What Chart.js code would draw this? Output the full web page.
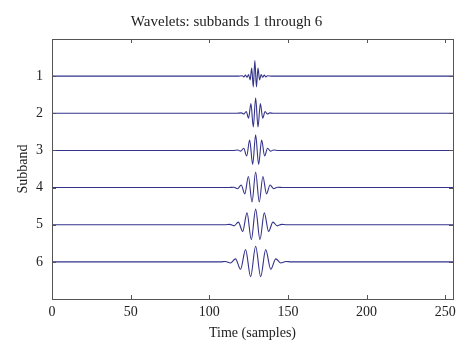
<!DOCTYPE html>
<html>
<head>
<meta charset="utf-8">
<script src="https://cdn.jsdelivr.net/npm/chart.js@4/dist/chart.umd.min.js"></script>
<style>
  html, body { margin: 0; padding: 0; background: #fff; }
  #wrap { width: 474px; height: 358px; position: relative; }
</style>
</head>
<body>
<div id="wrap"><canvas id="c"></canvas></div>
<script>
// Tick labels
const xTicks = [0, 50, 100, 150, 200, 250];
const yTicks = [1, 2, 3, 4, 5, 6];
const subbands = [1, 2, 3, 4, 5, 6];

// Wavelet samples: [time, deflection] (deflection in subband units, + = up)
const sub1 = [[0,0],[118,0],[121,0.01],[122,-0.02],[123,0.03],[124,-0.03],[125,0.04],[126,-0.1],[127,0.22],[128,-0.29],[129,0.42],[130,-0.29],[131,0.22],[132,-0.1],[133,0.04],[134,-0.03],[135,0.03],[136,-0.02],[137,0.01],[140,0],[255,0]];
const sub2 = [[0,0],[117,0],[120.5,0.01],[122,-0.02],[123.5,0.05],[125,-0.13],[126.5,0.26],[128,-0.37],[129.5,0.42],[131,-0.37],[132.5,0.26],[134,-0.13],[135.5,0.05],[137,-0.02],[138.5,0.01],[141,0],[255,0]];
const sub3 = [[0,0],[115,0],[118.1,0.01],[120,-0.02],[121.9,0.06],[123.8,-0.15],[125.7,0.28],[127.6,-0.38],[129.5,0.42],[131.4,-0.38],[133.3,0.28],[135.2,-0.15],[137.1,0.06],[139,-0.02],[140.9,0.01],[144,0],[255,0]];
const sub4 = [[0,0],[112,0],[115.7,0.01],[118,-0.03],[120.3,0.07],[122.6,-0.17],[124.9,0.3],[127.2,-0.39],[129.5,0.42],[131.8,-0.39],[134.1,0.3],[136.4,-0.17],[138.7,0.07],[141,-0.03],[143.3,0.01],[147,0],[255,0]];
const sub5 = [[0,0],[110,0],[113,0.01],[115.75,-0.03],[118.5,0.07],[121.25,-0.18],[124,0.32],[126.75,-0.4],[129.5,0.42],[132.25,-0.4],[135,0.32],[137.75,-0.18],[140.5,0.07],[143.25,-0.03],[146,0.01],[149,0],[255,0]];
const sub6 = [[0,0],[107,0],[110.3,0.01],[113.5,-0.03],[116.7,0.08],[119.9,-0.2],[123.1,0.33],[126.3,-0.4],[129.5,0.42],[132.7,-0.4],[135.9,0.33],[139.1,-0.2],[142.3,0.08],[145.5,-0.03],[148.7,0.01],[152,0],[255,0]];
const waves = [sub1, sub2, sub3, sub4, sub5, sub6];

const LINE = '#33338a';
const AXIS = '#555555';
const TXT = '#222222';
const FONT = '"Liberation Serif", "DejaVu Serif", serif';

const datasets = waves.map((w, i) => ({
  label: 'Subband ' + subbands[i],
  data: w.map(([x, v]) => ({ x: x, y: subbands[i] - v })),
  borderColor: LINE,
  borderWidth: 1.1,
  pointRadius: 0,
  fill: false,
  cubicInterpolationMode: 'monotone'
}));

const frame = {
  id: 'frame',
  afterDraw(chart) {
    const { ctx, chartArea: a, scales } = chart;
    const L = 4;
    ctx.save();
    ctx.strokeStyle = AXIS;
    ctx.lineWidth = 1;
    ctx.strokeRect(Math.round(a.left) + 0.5, Math.round(a.top) + 0.5, Math.round(a.right - a.left), Math.round(a.bottom - a.top));
    ctx.beginPath();
    xTicks.forEach(v => {
      const px = Math.round(scales.x.getPixelForValue(v)) + 0.5;
      ctx.moveTo(px, a.bottom); ctx.lineTo(px, a.bottom - L);
      ctx.moveTo(px, a.top); ctx.lineTo(px, a.top + L);
    });
    yTicks.forEach(v => {
      const py = Math.round(scales.y.getPixelForValue(v)) + 0.5;
      ctx.moveTo(a.left, py); ctx.lineTo(a.left + L, py);
      ctx.moveTo(a.right, py); ctx.lineTo(a.right - L, py);
    });
    ctx.stroke();
    ctx.restore();
  }
};

new Chart(document.getElementById('c'), {
  type: 'line',
  data: { datasets },
  plugins: [frame],
  options: {
    responsive: true,
    maintainAspectRatio: false,
    animation: false,
    layout: { padding: { left: 0, right: 21, top: 0, bottom: 0 } },
    plugins: {
      legend: { display: false },
      tooltip: { enabled: false },
      title: {
        display: true,
        text: 'Wavelets: subbands 1 through 6',
        color: TXT,
        font: { family: FONT, size: 15, weight: 'normal' },
        padding: { top: 13, bottom: 8 }
      }
    },
    scales: {
      x: {
        type: 'linear',
        position: 'bottom',
        min: 0,
        max: 255,
        grid: { display: false, drawTicks: false },
        border: { display: false },
        afterBuildTicks: s => { s.ticks = xTicks.map(v => ({ value: v })); },
        afterFit: s => { s.height = 59; },
        ticks: { color: TXT, font: { family: FONT, size: 14 }, padding: 5, maxRotation: 0, autoSkip: false },
        title: { display: true, text: 'Time (samples)', color: TXT, font: { family: FONT, size: 14 }, padding: { top: 0, bottom: 16 } }
      },
      y: {
        type: 'linear',
        reverse: true,
        min: 0,
        max: 7,
        grid: { display: false, drawTicks: false },
        border: { display: false },
        afterBuildTicks: s => { s.ticks = yTicks.map(v => ({ value: v })); },
        afterFit: s => { s.width = 52; },
        ticks: { color: TXT, font: { family: FONT, size: 14 }, padding: 9, autoSkip: false },
        title: { display: true, text: 'Subband', color: TXT, font: { family: FONT, size: 14 }, padding: { top: 15, bottom: 0 } }
      }
    }
  }
});
</script>
</body>
</html>
